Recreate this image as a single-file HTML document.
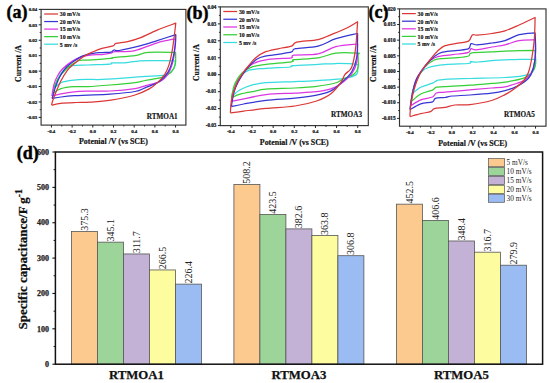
<!DOCTYPE html><html><head><meta charset="utf-8"><style>html,body{margin:0;padding:0;background:#fff;width:550px;height:383px;overflow:hidden}</style></head><body><svg width="550" height="383" viewBox="0 0 550 383" style="display:block;font-family:&quot;Liberation Serif&quot;, serif">
<rect width="550" height="383" fill="#fff"/>
<path d="M53.50,89.00 C53.88,88.05 54.77,85.55 55.80,83.30 C56.83,81.05 58.17,77.88 59.70,75.50 C61.23,73.12 62.82,70.63 65.00,69.00 C67.18,67.37 68.97,66.37 72.80,65.70 C76.63,65.03 81.83,65.25 88.00,65.00 C94.17,64.75 105.82,64.57 109.80,64.20 C113.78,63.83 109.53,63.02 111.90,62.80 C114.27,62.58 119.33,63.23 124.00,62.90 C128.67,62.57 134.37,61.18 139.90,60.80 C145.43,60.42 151.53,60.60 157.20,60.60 C162.87,60.60 170.88,60.57 173.90,60.80 C176.92,61.03 175.07,61.80 175.30,62.00 C175.12,63.00 175.42,65.95 174.20,68.00 C172.98,70.05 170.45,73.03 168.00,74.30 C165.55,75.57 163.33,75.25 159.50,75.60 C155.67,75.95 149.08,76.13 145.00,76.40 C140.92,76.67 142.08,76.70 135.00,77.20 C127.92,77.70 110.33,79.03 102.50,79.40 C94.67,79.77 92.73,79.28 88.00,79.40 C83.27,79.52 78.60,79.55 74.10,80.10 C69.60,80.65 64.43,81.22 61.00,82.70 C57.57,84.18 54.75,87.95 53.50,89.00" fill="none" stroke="#36dce0" stroke-width="1.25" stroke-linejoin="round"/>
<path d="M52.50,93.50 C52.83,92.33 53.52,89.07 54.50,86.50 C55.48,83.93 56.43,81.02 58.40,78.10 C60.37,75.18 63.68,71.50 66.30,69.00 C68.92,66.50 71.93,64.52 74.10,63.10 C76.27,61.68 76.98,61.00 79.30,60.50 C81.62,60.00 82.73,60.45 88.00,60.10 C93.27,59.75 106.73,58.82 110.90,58.40 C115.07,57.98 108.98,58.07 113.00,57.60 C117.02,57.13 129.12,56.47 135.00,55.60 C140.88,54.73 141.53,52.93 148.30,52.40 C155.07,51.87 171.05,52.40 175.60,52.40 C175.55,54.30 176.05,60.50 175.30,63.80 C174.55,67.10 173.37,69.93 171.10,72.20 C168.83,74.47 166.05,76.02 161.70,77.40 C157.35,78.78 149.45,79.63 145.00,80.50 C140.55,81.37 140.83,81.85 135.00,82.60 C129.17,83.35 117.83,84.33 110.00,85.00 C102.17,85.67 93.98,86.33 88.00,86.60 C82.02,86.87 78.60,86.27 74.10,86.60 C69.60,86.93 64.60,87.45 61.00,88.60 C57.40,89.75 53.92,92.68 52.50,93.50" fill="none" stroke="#36cf36" stroke-width="1.25" stroke-linejoin="round"/>
<path d="M51.90,96.00 C52.23,94.10 53.03,87.80 53.90,84.60 C54.77,81.40 55.68,79.40 57.10,76.80 C58.52,74.20 59.85,71.62 62.40,69.00 C64.95,66.38 68.98,63.20 72.40,61.10 C75.82,59.00 79.42,57.45 82.90,56.40 C86.38,55.35 90.12,55.10 93.30,54.80 C96.48,54.50 99.07,54.87 102.00,54.60 C104.93,54.33 108.73,53.68 110.90,53.20 C113.07,52.72 110.98,52.13 115.00,51.70 C119.02,51.27 127.97,52.08 135.00,50.60 C142.03,49.12 150.47,44.77 157.20,42.80 C163.93,40.83 172.37,39.47 175.40,38.80 C175.20,41.58 175.10,50.28 174.20,55.50 C173.30,60.72 172.08,65.93 170.00,70.10 C167.92,74.27 165.87,77.88 161.70,80.50 C157.53,83.12 149.45,84.45 145.00,85.80 C140.55,87.15 140.83,87.73 135.00,88.60 C129.17,89.47 117.83,90.57 110.00,91.00 C102.17,91.43 93.98,91.07 88.00,91.20 C82.02,91.33 78.60,91.37 74.10,91.80 C69.60,92.23 64.70,93.10 61.00,93.80 C57.30,94.50 53.42,95.63 51.90,96.00" fill="none" stroke="#dc36e2" stroke-width="1.25" stroke-linejoin="round"/>
<path d="M51.90,98.50 C52.12,97.93 52.55,97.18 53.20,95.10 C53.85,93.02 54.50,89.43 55.80,86.00 C57.10,82.57 59.13,77.75 61.00,74.50 C62.87,71.25 65.10,68.55 67.00,66.50 C68.90,64.45 69.75,63.97 72.40,62.20 C75.05,60.43 79.42,57.38 82.90,55.90 C86.38,54.42 90.12,53.85 93.30,53.30 C96.48,52.75 99.07,52.80 102.00,52.60 C104.93,52.40 108.90,52.53 110.90,52.10 C112.90,51.67 112.62,50.27 114.00,50.00 C115.38,49.73 114.88,51.18 119.20,50.50 C123.52,49.82 133.57,47.55 139.90,45.90 C146.23,44.25 151.22,42.48 157.20,40.60 C163.18,38.72 172.70,35.60 175.80,34.60 C175.72,36.33 175.92,40.47 175.30,45.00 C174.68,49.53 173.32,57.27 172.10,61.80 C170.88,66.33 170.08,68.90 168.00,72.20 C165.92,75.50 163.43,79.00 159.60,81.60 C155.77,84.20 149.10,86.15 145.00,87.80 C140.90,89.45 140.83,90.43 135.00,91.50 C129.17,92.57 117.83,93.60 110.00,94.20 C102.17,94.80 93.98,94.85 88.00,95.10 C82.02,95.35 78.60,95.38 74.10,95.70 C69.60,96.02 64.70,96.53 61.00,97.00 C57.30,97.47 53.42,98.25 51.90,98.50" fill="none" stroke="#3636d4" stroke-width="1.25" stroke-linejoin="round"/>
<path d="M51.60,105.20 C51.77,104.50 51.90,103.12 52.60,101.00 C53.30,98.88 54.40,95.88 55.80,92.50 C57.20,89.12 59.13,84.32 61.00,80.70 C62.87,77.08 65.10,73.37 67.00,70.80 C68.90,68.23 69.75,67.62 72.40,65.30 C75.05,62.98 79.42,59.17 82.90,56.90 C86.38,54.63 90.12,53.13 93.30,51.70 C96.48,50.27 98.72,49.27 102.00,48.30 C105.28,47.33 110.65,46.72 113.00,45.90 C115.35,45.08 113.67,44.10 116.10,43.40 C118.53,42.70 123.63,42.62 127.60,41.70 C131.57,40.78 134.97,39.83 139.90,37.90 C144.83,35.97 151.22,32.57 157.20,30.10 C163.18,27.63 172.70,24.27 175.80,23.10 C175.53,25.37 174.82,32.00 174.20,36.70 C173.58,41.40 172.97,46.60 172.10,51.30 C171.23,56.00 170.22,61.07 169.00,64.90 C167.78,68.73 166.72,71.35 164.80,74.30 C162.88,77.25 160.10,80.17 157.50,82.60 C154.90,85.03 152.95,86.83 149.20,88.90 C145.45,90.97 141.38,93.12 135.00,95.00 C128.62,96.88 118.40,99.00 110.90,100.20 C103.40,101.40 95.77,101.82 90.00,102.20 C84.23,102.58 81.18,102.32 76.30,102.50 C71.42,102.68 64.82,102.85 60.70,103.30 C56.58,103.75 53.12,104.88 51.60,105.20" fill="none" stroke="#dc3636" stroke-width="1.25" stroke-linejoin="round"/>
<rect x="41.1" y="9.4" width="144.80" height="115.70" fill="none" stroke="#333" stroke-width="1.15"/>
<line x1="38.70" y1="9.40" x2="41.1" y2="9.40" stroke="#222" stroke-width="1"/>
<text x="37.20" y="11.15" font-size="4.9" font-weight="bold" text-anchor="end" fill="#111" stroke="#111" stroke-width="0.22">0.04</text>
<line x1="38.70" y1="24.83" x2="41.1" y2="24.83" stroke="#222" stroke-width="1"/>
<text x="37.20" y="26.58" font-size="4.9" font-weight="bold" text-anchor="end" fill="#111" stroke="#111" stroke-width="0.22">0.03</text>
<line x1="38.70" y1="40.25" x2="41.1" y2="40.25" stroke="#222" stroke-width="1"/>
<text x="37.20" y="42.00" font-size="4.9" font-weight="bold" text-anchor="end" fill="#111" stroke="#111" stroke-width="0.22">0.02</text>
<line x1="38.70" y1="55.68" x2="41.1" y2="55.68" stroke="#222" stroke-width="1"/>
<text x="37.20" y="57.43" font-size="4.9" font-weight="bold" text-anchor="end" fill="#111" stroke="#111" stroke-width="0.22">0.01</text>
<line x1="38.70" y1="71.11" x2="41.1" y2="71.11" stroke="#222" stroke-width="1"/>
<text x="37.20" y="72.86" font-size="4.9" font-weight="bold" text-anchor="end" fill="#111" stroke="#111" stroke-width="0.22">0.00</text>
<line x1="38.70" y1="86.53" x2="41.1" y2="86.53" stroke="#222" stroke-width="1"/>
<text x="37.20" y="88.28" font-size="4.9" font-weight="bold" text-anchor="end" fill="#111" stroke="#111" stroke-width="0.22">-0.01</text>
<line x1="38.70" y1="101.96" x2="41.1" y2="101.96" stroke="#222" stroke-width="1"/>
<text x="37.20" y="103.71" font-size="4.9" font-weight="bold" text-anchor="end" fill="#111" stroke="#111" stroke-width="0.22">-0.02</text>
<line x1="38.70" y1="117.39" x2="41.1" y2="117.39" stroke="#222" stroke-width="1"/>
<text x="37.20" y="119.14" font-size="4.9" font-weight="bold" text-anchor="end" fill="#111" stroke="#111" stroke-width="0.22">-0.03</text>
<line x1="39.70" y1="17.11" x2="41.1" y2="17.11" stroke="#222" stroke-width="0.9"/>
<line x1="39.70" y1="32.54" x2="41.1" y2="32.54" stroke="#222" stroke-width="0.9"/>
<line x1="39.70" y1="47.97" x2="41.1" y2="47.97" stroke="#222" stroke-width="0.9"/>
<line x1="39.70" y1="63.39" x2="41.1" y2="63.39" stroke="#222" stroke-width="0.9"/>
<line x1="39.70" y1="78.82" x2="41.1" y2="78.82" stroke="#222" stroke-width="0.9"/>
<line x1="39.70" y1="94.25" x2="41.1" y2="94.25" stroke="#222" stroke-width="0.9"/>
<line x1="39.70" y1="109.67" x2="41.1" y2="109.67" stroke="#222" stroke-width="0.9"/>
<line x1="51.44" y1="125.1" x2="51.44" y2="127.50" stroke="#222" stroke-width="1"/>
<text x="51.44" y="132.60" font-size="4.9" font-weight="bold" text-anchor="middle" fill="#111" stroke="#111" stroke-width="0.22">-0.4</text>
<line x1="72.13" y1="125.1" x2="72.13" y2="127.50" stroke="#222" stroke-width="1"/>
<text x="72.13" y="132.60" font-size="4.9" font-weight="bold" text-anchor="middle" fill="#111" stroke="#111" stroke-width="0.22">-0.2</text>
<line x1="92.81" y1="125.1" x2="92.81" y2="127.50" stroke="#222" stroke-width="1"/>
<text x="92.81" y="132.60" font-size="4.9" font-weight="bold" text-anchor="middle" fill="#111" stroke="#111" stroke-width="0.22">0.0</text>
<line x1="113.50" y1="125.1" x2="113.50" y2="127.50" stroke="#222" stroke-width="1"/>
<text x="113.50" y="132.60" font-size="4.9" font-weight="bold" text-anchor="middle" fill="#111" stroke="#111" stroke-width="0.22">0.2</text>
<line x1="134.19" y1="125.1" x2="134.19" y2="127.50" stroke="#222" stroke-width="1"/>
<text x="134.19" y="132.60" font-size="4.9" font-weight="bold" text-anchor="middle" fill="#111" stroke="#111" stroke-width="0.22">0.4</text>
<line x1="154.87" y1="125.1" x2="154.87" y2="127.50" stroke="#222" stroke-width="1"/>
<text x="154.87" y="132.60" font-size="4.9" font-weight="bold" text-anchor="middle" fill="#111" stroke="#111" stroke-width="0.22">0.6</text>
<line x1="175.56" y1="125.1" x2="175.56" y2="127.50" stroke="#222" stroke-width="1"/>
<text x="175.56" y="132.60" font-size="4.9" font-weight="bold" text-anchor="middle" fill="#111" stroke="#111" stroke-width="0.22">0.8</text>
<line x1="61.79" y1="125.1" x2="61.79" y2="126.50" stroke="#222" stroke-width="0.9"/>
<line x1="82.47" y1="125.1" x2="82.47" y2="126.50" stroke="#222" stroke-width="0.9"/>
<line x1="103.16" y1="125.1" x2="103.16" y2="126.50" stroke="#222" stroke-width="0.9"/>
<line x1="123.84" y1="125.1" x2="123.84" y2="126.50" stroke="#222" stroke-width="0.9"/>
<line x1="144.53" y1="125.1" x2="144.53" y2="126.50" stroke="#222" stroke-width="0.9"/>
<line x1="165.21" y1="125.1" x2="165.21" y2="126.50" stroke="#222" stroke-width="0.9"/>
<text x="113.50" y="144.40" font-size="7.9" font-weight="bold" text-anchor="middle" fill="#111" stroke="#111" stroke-width="0.18">Potenial /V (vs SCE)</text>
<text x="0" y="0" font-size="7.8" font-weight="bold" text-anchor="middle" fill="#111" stroke="#111" stroke-width="0.18" transform="translate(20.5,63.5) rotate(-90)">Current /A</text>
<text x="6.6" y="18.0" font-size="18" font-weight="bold" text-anchor="start" fill="#000" stroke="#000" stroke-width="0.45">(a)</text>
<text x="146.8" y="119" font-size="7.2" font-weight="bold" text-anchor="start" fill="#111" stroke="#111" stroke-width="0.15">RTMOA1</text>
<line x1="44.2" y1="14.00" x2="58.00" y2="14.00" stroke="#dc3636" stroke-width="1.25"/>
<text x="59.80" y="16.30" font-size="6.5" font-weight="bold" text-anchor="start" fill="#111" textLength="20.3" lengthAdjust="spacingAndGlyphs" stroke="#111" stroke-width="0.18">30 mV/s</text>
<line x1="44.2" y1="21.55" x2="58.00" y2="21.55" stroke="#3636d4" stroke-width="1.25"/>
<text x="59.80" y="23.85" font-size="6.5" font-weight="bold" text-anchor="start" fill="#111" textLength="20.3" lengthAdjust="spacingAndGlyphs" stroke="#111" stroke-width="0.18">20 mV/s</text>
<line x1="44.2" y1="29.10" x2="58.00" y2="29.10" stroke="#dc36e2" stroke-width="1.25"/>
<text x="59.80" y="31.40" font-size="6.5" font-weight="bold" text-anchor="start" fill="#111" textLength="20.3" lengthAdjust="spacingAndGlyphs" stroke="#111" stroke-width="0.18">15 mV/s</text>
<line x1="44.2" y1="36.65" x2="58.00" y2="36.65" stroke="#36cf36" stroke-width="1.25"/>
<text x="59.80" y="38.95" font-size="6.5" font-weight="bold" text-anchor="start" fill="#111" textLength="20.3" lengthAdjust="spacingAndGlyphs" stroke="#111" stroke-width="0.18">10 mV/s</text>
<line x1="44.2" y1="44.20" x2="58.00" y2="44.20" stroke="#36dce0" stroke-width="1.25"/>
<text x="59.80" y="46.50" font-size="6.5" font-weight="bold" text-anchor="start" fill="#111" textLength="17.4" lengthAdjust="spacingAndGlyphs" stroke="#111" stroke-width="0.18">5 mv /s</text>
<path d="M232.20,96.00 C232.65,94.22 233.57,88.57 234.90,85.30 C236.23,82.03 237.83,78.92 240.20,76.40 C242.57,73.88 244.80,71.53 249.10,70.20 C253.40,68.87 259.15,68.93 266.00,68.40 C272.85,67.87 285.73,67.45 290.20,67.00 C294.67,66.55 288.15,66.13 292.80,65.70 C297.45,65.27 310.92,64.77 318.10,64.40 C325.28,64.03 329.45,63.52 335.90,63.50 C342.35,63.48 353.12,63.88 356.80,64.30 C360.48,64.72 357.80,65.72 358.00,66.00 C357.80,67.33 358.32,72.08 356.80,74.00 C355.28,75.92 352.02,76.65 348.90,77.50 C345.78,78.35 343.48,78.58 338.10,79.10 C332.72,79.62 323.78,80.18 316.60,80.60 C309.42,81.02 303.43,81.25 295.00,81.60 C286.57,81.95 273.35,82.08 266.00,82.70 C258.65,83.32 255.20,84.12 250.90,85.30 C246.60,86.48 243.32,88.02 240.20,89.80 C237.08,91.58 233.53,94.97 232.20,96.00" fill="none" stroke="#36dce0" stroke-width="1.25" stroke-linejoin="round"/>
<path d="M231.30,97.80 C231.90,95.43 233.12,87.75 234.90,83.60 C236.68,79.45 239.03,75.72 242.00,72.90 C244.97,70.08 248.70,68.12 252.70,66.70 C256.70,65.28 259.53,65.22 266.00,64.40 C272.47,63.58 286.82,62.58 291.50,61.80 C296.18,61.02 289.67,60.35 294.10,59.70 C298.53,59.05 311.13,59.00 318.10,57.90 C325.07,56.80 329.32,53.90 335.90,53.10 C342.48,52.30 353.92,52.95 357.60,53.10 C361.28,53.25 357.93,53.85 358.00,54.00 C358.02,56.23 358.73,64.07 358.10,67.40 C357.47,70.73 356.82,72.00 354.20,74.00 C351.58,76.00 345.57,77.90 342.40,79.40 C339.23,80.90 339.50,81.85 335.20,83.00 C330.90,84.15 323.30,85.47 316.60,86.30 C309.90,87.13 303.43,87.52 295.00,88.00 C286.57,88.48 273.05,88.60 266.00,89.20 C258.95,89.80 257.00,90.77 252.70,91.60 C248.40,92.43 243.77,93.17 240.20,94.20 C236.63,95.23 232.78,97.20 231.30,97.80" fill="none" stroke="#36cf36" stroke-width="1.25" stroke-linejoin="round"/>
<path d="M231.30,101.30 C231.75,99.53 232.52,94.55 234.00,90.70 C235.48,86.85 238.20,81.82 240.20,78.20 C242.20,74.58 244.10,71.28 246.00,69.00 C247.90,66.72 249.45,65.78 251.60,64.50 C253.75,63.22 256.47,62.08 258.90,61.30 C261.33,60.52 263.02,60.23 266.20,59.80 C269.38,59.37 273.78,59.02 278.00,58.70 C282.22,58.38 288.82,58.48 291.50,57.90 C294.18,57.32 289.67,55.87 294.10,55.20 C298.53,54.53 311.13,55.33 318.10,53.90 C325.07,52.47 329.32,48.25 335.90,46.60 C342.48,44.95 353.98,44.43 357.60,44.00 C357.47,47.03 357.80,57.20 356.80,62.20 C355.80,67.20 354.23,70.42 351.60,74.00 C348.97,77.58 344.45,81.23 341.00,83.70 C337.55,86.17 334.97,87.48 330.90,88.80 C326.83,90.12 322.58,90.88 316.60,91.60 C310.62,92.32 303.43,92.60 295.00,93.10 C286.57,93.60 275.13,93.52 266.00,94.60 C256.87,95.68 245.98,98.48 240.20,99.60 C234.42,100.72 232.78,101.02 231.30,101.30" fill="none" stroke="#dc36e2" stroke-width="1.25" stroke-linejoin="round"/>
<path d="M231.30,106.70 C231.75,104.32 232.88,96.52 234.00,92.40 C235.12,88.28 236.50,85.07 238.00,82.00 C239.50,78.93 241.27,76.50 243.00,74.00 C244.73,71.50 246.10,69.47 248.40,67.00 C250.70,64.53 254.00,61.02 256.80,59.20 C259.60,57.38 261.67,56.92 265.20,56.10 C268.73,55.28 273.62,55.00 278.00,54.30 C282.38,53.60 288.60,52.83 291.50,51.90 C294.40,50.97 290.97,49.67 295.40,48.70 C299.83,47.73 311.35,47.77 318.10,46.10 C324.85,44.43 329.32,40.80 335.90,38.70 C342.48,36.60 353.98,34.37 357.60,33.50 C357.47,37.42 357.80,50.58 356.80,57.00 C355.80,63.42 354.23,67.67 351.60,72.00 C348.97,76.33 344.45,79.85 341.00,83.00 C337.55,86.15 334.97,88.87 330.90,90.90 C326.83,92.93 322.58,94.00 316.60,95.20 C310.62,96.40 303.43,97.23 295.00,98.10 C286.57,98.97 274.53,99.42 266.00,100.40 C257.47,101.38 249.58,102.95 243.80,104.00 C238.02,105.05 233.38,106.25 231.30,106.70" fill="none" stroke="#3636d4" stroke-width="1.25" stroke-linejoin="round"/>
<path d="M230.40,112.90 C230.55,110.97 230.55,105.45 231.30,101.30 C232.05,97.15 233.78,91.45 234.90,88.00 C236.02,84.55 236.65,83.10 238.00,80.60 C239.35,78.10 241.27,75.43 243.00,73.00 C244.73,70.57 246.27,68.55 248.40,66.00 C250.53,63.45 253.18,59.97 255.80,57.70 C258.42,55.43 260.40,53.88 264.10,52.40 C267.80,50.92 273.43,49.85 278.00,48.80 C282.57,47.75 288.38,47.20 291.50,46.10 C294.62,45.00 292.27,43.28 296.70,42.20 C301.13,41.12 312.43,40.83 318.10,39.60 C323.77,38.37 326.00,36.68 330.70,34.80 C335.40,32.92 341.82,30.48 346.30,28.30 C350.78,26.12 355.72,22.80 357.60,21.70 C357.25,26.28 356.50,41.58 355.50,49.20 C354.50,56.82 353.35,63.20 351.60,67.40 C349.85,71.60 346.77,71.92 345.00,74.40 C343.23,76.88 343.35,79.07 341.00,82.30 C338.65,85.53 334.97,90.68 330.90,93.80 C326.83,96.92 322.58,98.97 316.60,101.00 C310.62,103.03 303.43,104.77 295.00,106.00 C286.57,107.23 274.53,107.55 266.00,108.40 C257.47,109.25 249.73,110.35 243.80,111.10 C237.87,111.85 232.63,112.60 230.40,112.90" fill="none" stroke="#dc3636" stroke-width="1.25" stroke-linejoin="round"/>
<rect x="220.3" y="6.9" width="148.00" height="118.70" fill="none" stroke="#333" stroke-width="1.15"/>
<line x1="217.90" y1="6.90" x2="220.3" y2="6.90" stroke="#222" stroke-width="1"/>
<text x="216.40" y="8.65" font-size="5.1" font-weight="bold" text-anchor="end" fill="#111" stroke="#111" stroke-width="0.22">0.04</text>
<line x1="217.90" y1="23.86" x2="220.3" y2="23.86" stroke="#222" stroke-width="1"/>
<text x="216.40" y="25.61" font-size="5.1" font-weight="bold" text-anchor="end" fill="#111" stroke="#111" stroke-width="0.22">0.03</text>
<line x1="217.90" y1="40.81" x2="220.3" y2="40.81" stroke="#222" stroke-width="1"/>
<text x="216.40" y="42.56" font-size="5.1" font-weight="bold" text-anchor="end" fill="#111" stroke="#111" stroke-width="0.22">0.02</text>
<line x1="217.90" y1="57.77" x2="220.3" y2="57.77" stroke="#222" stroke-width="1"/>
<text x="216.40" y="59.52" font-size="5.1" font-weight="bold" text-anchor="end" fill="#111" stroke="#111" stroke-width="0.22">0.01</text>
<line x1="217.90" y1="74.73" x2="220.3" y2="74.73" stroke="#222" stroke-width="1"/>
<text x="216.40" y="76.48" font-size="5.1" font-weight="bold" text-anchor="end" fill="#111" stroke="#111" stroke-width="0.22">0.00</text>
<line x1="217.90" y1="91.69" x2="220.3" y2="91.69" stroke="#222" stroke-width="1"/>
<text x="216.40" y="93.44" font-size="5.1" font-weight="bold" text-anchor="end" fill="#111" stroke="#111" stroke-width="0.22">-0.01</text>
<line x1="217.90" y1="108.64" x2="220.3" y2="108.64" stroke="#222" stroke-width="1"/>
<text x="216.40" y="110.39" font-size="5.1" font-weight="bold" text-anchor="end" fill="#111" stroke="#111" stroke-width="0.22">-0.02</text>
<line x1="217.90" y1="125.60" x2="220.3" y2="125.60" stroke="#222" stroke-width="1"/>
<text x="216.40" y="127.35" font-size="5.1" font-weight="bold" text-anchor="end" fill="#111" stroke="#111" stroke-width="0.22">-0.03</text>
<line x1="218.90" y1="15.38" x2="220.3" y2="15.38" stroke="#222" stroke-width="0.9"/>
<line x1="218.90" y1="32.34" x2="220.3" y2="32.34" stroke="#222" stroke-width="0.9"/>
<line x1="218.90" y1="49.29" x2="220.3" y2="49.29" stroke="#222" stroke-width="0.9"/>
<line x1="218.90" y1="66.25" x2="220.3" y2="66.25" stroke="#222" stroke-width="0.9"/>
<line x1="218.90" y1="83.21" x2="220.3" y2="83.21" stroke="#222" stroke-width="0.9"/>
<line x1="218.90" y1="100.16" x2="220.3" y2="100.16" stroke="#222" stroke-width="0.9"/>
<line x1="218.90" y1="117.12" x2="220.3" y2="117.12" stroke="#222" stroke-width="0.9"/>
<line x1="230.87" y1="125.6" x2="230.87" y2="128.00" stroke="#222" stroke-width="1"/>
<text x="230.87" y="133.10" font-size="4.9" font-weight="bold" text-anchor="middle" fill="#111" stroke="#111" stroke-width="0.22">-0.4</text>
<line x1="252.01" y1="125.6" x2="252.01" y2="128.00" stroke="#222" stroke-width="1"/>
<text x="252.01" y="133.10" font-size="4.9" font-weight="bold" text-anchor="middle" fill="#111" stroke="#111" stroke-width="0.22">-0.2</text>
<line x1="273.16" y1="125.6" x2="273.16" y2="128.00" stroke="#222" stroke-width="1"/>
<text x="273.16" y="133.10" font-size="4.9" font-weight="bold" text-anchor="middle" fill="#111" stroke="#111" stroke-width="0.22">0.0</text>
<line x1="294.30" y1="125.6" x2="294.30" y2="128.00" stroke="#222" stroke-width="1"/>
<text x="294.30" y="133.10" font-size="4.9" font-weight="bold" text-anchor="middle" fill="#111" stroke="#111" stroke-width="0.22">0.2</text>
<line x1="315.44" y1="125.6" x2="315.44" y2="128.00" stroke="#222" stroke-width="1"/>
<text x="315.44" y="133.10" font-size="4.9" font-weight="bold" text-anchor="middle" fill="#111" stroke="#111" stroke-width="0.22">0.4</text>
<line x1="336.59" y1="125.6" x2="336.59" y2="128.00" stroke="#222" stroke-width="1"/>
<text x="336.59" y="133.10" font-size="4.9" font-weight="bold" text-anchor="middle" fill="#111" stroke="#111" stroke-width="0.22">0.6</text>
<line x1="357.73" y1="125.6" x2="357.73" y2="128.00" stroke="#222" stroke-width="1"/>
<text x="357.73" y="133.10" font-size="4.9" font-weight="bold" text-anchor="middle" fill="#111" stroke="#111" stroke-width="0.22">0.8</text>
<line x1="241.44" y1="125.6" x2="241.44" y2="127.00" stroke="#222" stroke-width="0.9"/>
<line x1="262.59" y1="125.6" x2="262.59" y2="127.00" stroke="#222" stroke-width="0.9"/>
<line x1="283.73" y1="125.6" x2="283.73" y2="127.00" stroke="#222" stroke-width="0.9"/>
<line x1="304.87" y1="125.6" x2="304.87" y2="127.00" stroke="#222" stroke-width="0.9"/>
<line x1="326.01" y1="125.6" x2="326.01" y2="127.00" stroke="#222" stroke-width="0.9"/>
<line x1="347.16" y1="125.6" x2="347.16" y2="127.00" stroke="#222" stroke-width="0.9"/>
<text x="294.30" y="144.90" font-size="7.9" font-weight="bold" text-anchor="middle" fill="#111" stroke="#111" stroke-width="0.18">Potenial /V (vs SCE)</text>
<text x="0" y="0" font-size="7.8" font-weight="bold" text-anchor="middle" fill="#111" stroke="#111" stroke-width="0.18" transform="translate(199,62.6) rotate(-90)">Current /A</text>
<text x="186.5" y="18.9" font-size="18" font-weight="bold" text-anchor="start" fill="#000" stroke="#000" stroke-width="0.45">(b)</text>
<text x="331.1" y="116.8" font-size="7.2" font-weight="bold" text-anchor="start" fill="#111" stroke="#111" stroke-width="0.15">RTMOA3</text>
<line x1="223.3" y1="11.50" x2="237.10" y2="11.50" stroke="#dc3636" stroke-width="1.25"/>
<text x="238.90" y="13.80" font-size="6.5" font-weight="bold" text-anchor="start" fill="#111" textLength="20.3" lengthAdjust="spacingAndGlyphs" stroke="#111" stroke-width="0.18">30 mV/s</text>
<line x1="223.3" y1="19.25" x2="237.10" y2="19.25" stroke="#3636d4" stroke-width="1.25"/>
<text x="238.90" y="21.55" font-size="6.5" font-weight="bold" text-anchor="start" fill="#111" textLength="20.3" lengthAdjust="spacingAndGlyphs" stroke="#111" stroke-width="0.18">20 mV/s</text>
<line x1="223.3" y1="27.00" x2="237.10" y2="27.00" stroke="#dc36e2" stroke-width="1.25"/>
<text x="238.90" y="29.30" font-size="6.5" font-weight="bold" text-anchor="start" fill="#111" textLength="20.3" lengthAdjust="spacingAndGlyphs" stroke="#111" stroke-width="0.18">15 mV/s</text>
<line x1="223.3" y1="34.75" x2="237.10" y2="34.75" stroke="#36cf36" stroke-width="1.25"/>
<text x="238.90" y="37.05" font-size="6.5" font-weight="bold" text-anchor="start" fill="#111" textLength="20.3" lengthAdjust="spacingAndGlyphs" stroke="#111" stroke-width="0.18">10 mV/s</text>
<line x1="223.3" y1="42.50" x2="237.10" y2="42.50" stroke="#36dce0" stroke-width="1.25"/>
<text x="238.90" y="44.80" font-size="6.5" font-weight="bold" text-anchor="start" fill="#111" textLength="17.4" lengthAdjust="spacingAndGlyphs" stroke="#111" stroke-width="0.18">5 mv /s</text>
<path d="M411.90,94.00 C412.55,91.72 414.33,83.88 415.80,80.30 C417.27,76.72 418.58,74.63 420.70,72.50 C422.82,70.37 424.45,68.82 428.50,67.50 C432.55,66.18 438.32,65.27 445.00,64.60 C451.68,63.93 464.33,63.98 468.60,63.50 C472.87,63.02 469.17,61.95 470.60,61.70 C472.03,61.45 473.70,62.17 477.20,62.00 C480.70,61.83 486.97,61.07 491.60,60.70 C496.23,60.33 500.27,60.03 505.00,59.80 C509.73,59.57 514.98,59.37 520.00,59.30 C525.02,59.23 532.58,59.38 535.10,59.40 C535.10,60.57 535.80,64.05 535.10,66.40 C534.40,68.75 533.57,71.85 530.90,73.50 C528.23,75.15 523.42,75.63 519.10,76.30 C514.78,76.97 513.18,77.13 505.00,77.50 C496.82,77.87 480.00,78.20 470.00,78.50 C460.00,78.80 450.43,79.00 445.00,79.30 C439.57,79.60 439.48,79.65 437.40,80.30 C435.32,80.95 435.28,82.05 432.50,83.20 C429.72,84.35 424.13,85.40 420.70,87.20 C417.27,89.00 413.37,92.87 411.90,94.00" fill="none" stroke="#36dce0" stroke-width="1.25" stroke-linejoin="round"/>
<path d="M410.90,101.90 C411.38,99.60 412.50,92.35 413.80,88.10 C415.10,83.85 416.95,79.83 418.70,76.40 C420.45,72.97 421.80,70.18 424.30,67.50 C426.80,64.82 430.92,61.77 433.70,60.30 C436.48,58.83 436.95,59.13 441.00,58.70 C445.05,58.27 453.40,58.15 458.00,57.70 C462.60,57.25 466.30,56.82 468.60,56.00 C470.90,55.18 467.90,53.50 471.80,52.80 C475.70,52.10 486.47,52.08 492.00,51.80 C497.53,51.52 497.82,51.33 505.00,51.10 C512.18,50.87 530.08,50.52 535.10,50.40 C535.18,52.68 536.12,60.45 535.60,64.10 C535.08,67.75 533.97,69.95 532.00,72.30 C530.03,74.65 528.30,76.55 523.80,78.20 C519.30,79.85 510.37,81.33 505.00,82.20 C499.63,83.07 497.43,82.90 491.60,83.40 C485.77,83.90 477.77,84.67 470.00,85.20 C462.23,85.73 450.60,86.27 445.00,86.60 C439.40,86.93 438.48,86.62 436.40,87.20 C434.32,87.78 435.12,88.97 432.50,90.10 C429.88,91.23 424.30,92.03 420.70,94.00 C417.10,95.97 412.53,100.58 410.90,101.90" fill="none" stroke="#36cf36" stroke-width="1.25" stroke-linejoin="round"/>
<path d="M410.90,105.80 C411.22,103.52 411.82,96.68 412.80,92.10 C413.78,87.52 414.83,82.55 416.80,78.30 C418.77,74.05 422.13,69.73 424.60,66.60 C427.07,63.47 429.22,61.22 431.60,59.50 C433.98,57.78 434.50,57.22 438.90,56.30 C443.30,55.38 453.05,54.67 458.00,54.00 C462.95,53.33 466.42,53.20 468.60,52.30 C470.78,51.40 469.87,49.02 471.10,48.60 C472.33,48.18 472.52,50.07 476.00,49.80 C479.48,49.53 487.17,47.83 492.00,47.00 C496.83,46.17 500.48,45.87 505.00,44.80 C509.52,43.73 514.08,41.43 519.10,40.60 C524.12,39.77 532.43,39.93 535.10,39.80 C535.10,43.07 535.80,53.78 535.10,59.40 C534.40,65.02 532.78,69.98 530.90,73.50 C529.02,77.02 526.77,78.67 523.80,80.50 C520.83,82.33 516.23,83.45 513.10,84.50 C509.97,85.55 508.58,86.22 505.00,86.80 C501.42,87.38 497.43,87.50 491.60,88.00 C485.77,88.50 477.77,89.10 470.00,89.80 C462.23,90.50 450.60,91.67 445.00,92.20 C439.40,92.73 438.48,92.20 436.40,93.00 C434.32,93.80 435.12,95.85 432.50,97.00 C429.88,98.15 424.30,98.43 420.70,99.90 C417.10,101.37 412.53,104.82 410.90,105.80" fill="none" stroke="#dc36e2" stroke-width="1.25" stroke-linejoin="round"/>
<path d="M409.90,109.70 C410.23,107.42 410.92,100.78 411.90,96.00 C412.88,91.22 414.02,85.42 415.80,81.00 C417.58,76.58 420.15,73.00 422.60,69.50 C425.05,66.00 427.78,62.67 430.50,60.00 C433.22,57.33 436.12,54.93 438.90,53.50 C441.68,52.07 444.02,51.92 447.20,51.40 C450.38,50.88 454.43,50.87 458.00,50.40 C461.57,49.93 466.42,49.73 468.60,48.60 C470.78,47.47 469.65,44.22 471.10,43.60 C472.55,42.98 473.82,45.00 477.30,44.90 C480.78,44.80 487.38,43.72 492.00,43.00 C496.62,42.28 500.48,41.98 505.00,40.60 C509.52,39.22 514.08,36.00 519.10,34.70 C524.12,33.40 532.43,33.12 535.10,32.80 C535.18,36.05 535.92,46.30 535.60,52.30 C535.28,58.30 534.38,64.48 533.20,68.80 C532.02,73.12 531.23,75.27 528.50,78.20 C525.77,81.13 520.72,84.33 516.80,86.40 C512.88,88.47 509.20,89.48 505.00,90.60 C500.80,91.72 497.43,92.37 491.60,93.10 C485.77,93.83 476.53,94.52 470.00,95.00 C463.47,95.48 456.57,95.58 452.40,96.00 C448.23,96.42 447.83,97.12 445.00,97.50 C442.17,97.88 437.48,97.57 435.40,98.30 C433.32,99.03 434.95,100.98 432.50,101.90 C430.05,102.82 424.47,102.50 420.70,103.80 C416.93,105.10 411.70,108.72 409.90,109.70" fill="none" stroke="#3636d4" stroke-width="1.25" stroke-linejoin="round"/>
<path d="M409.90,116.60 C410.07,114.47 410.25,108.15 410.90,103.80 C411.55,99.45 412.62,94.80 413.80,90.50 C414.98,86.20 416.60,81.42 418.00,78.00 C419.40,74.58 420.12,73.13 422.20,70.00 C424.28,66.87 427.72,62.57 430.50,59.20 C433.28,55.83 436.45,52.05 438.90,49.80 C441.35,47.55 442.02,46.82 445.20,45.70 C448.38,44.58 454.10,43.87 458.00,43.10 C461.90,42.33 466.22,42.47 468.60,41.10 C470.98,39.73 470.90,35.88 472.30,34.90 C473.70,33.92 473.72,35.43 477.00,35.20 C480.28,34.97 487.33,34.23 492.00,33.50 C496.67,32.77 500.48,32.22 505.00,30.80 C509.52,29.38 514.08,27.22 519.10,25.00 C524.12,22.78 532.43,18.75 535.10,17.50 C534.98,20.95 534.92,31.62 534.40,38.20 C533.88,44.78 532.98,51.32 532.00,57.00 C531.02,62.68 529.87,68.38 528.50,72.30 C527.13,76.22 526.15,77.77 523.80,80.50 C521.45,83.23 517.53,86.35 514.40,88.70 C511.27,91.05 508.80,92.63 505.00,94.60 C501.20,96.57 497.43,98.83 491.60,100.50 C485.77,102.17 476.12,103.85 470.00,104.60 C463.88,105.35 459.07,104.53 454.90,105.00 C450.73,105.47 448.42,106.78 445.00,107.40 C441.58,108.02 436.82,107.98 434.40,108.70 C431.98,109.42 432.78,110.88 430.50,111.70 C428.22,112.52 424.13,112.78 420.70,113.60 C417.27,114.42 411.70,116.10 409.90,116.60" fill="none" stroke="#dc3636" stroke-width="1.25" stroke-linejoin="round"/>
<rect x="399.5" y="8.9" width="146.50" height="117.30" fill="none" stroke="#333" stroke-width="1.15"/>
<line x1="397.10" y1="8.90" x2="399.5" y2="8.90" stroke="#222" stroke-width="1"/>
<text x="395.60" y="10.65" font-size="5.3" font-weight="bold" text-anchor="end" fill="#111" stroke="#111" stroke-width="0.22">0.020</text>
<line x1="397.10" y1="24.54" x2="399.5" y2="24.54" stroke="#222" stroke-width="1"/>
<text x="395.60" y="26.29" font-size="5.3" font-weight="bold" text-anchor="end" fill="#111" stroke="#111" stroke-width="0.22">0.015</text>
<line x1="397.10" y1="40.18" x2="399.5" y2="40.18" stroke="#222" stroke-width="1"/>
<text x="395.60" y="41.93" font-size="5.3" font-weight="bold" text-anchor="end" fill="#111" stroke="#111" stroke-width="0.22">0.010</text>
<line x1="397.10" y1="55.82" x2="399.5" y2="55.82" stroke="#222" stroke-width="1"/>
<text x="395.60" y="57.57" font-size="5.3" font-weight="bold" text-anchor="end" fill="#111" stroke="#111" stroke-width="0.22">0.005</text>
<line x1="397.10" y1="71.46" x2="399.5" y2="71.46" stroke="#222" stroke-width="1"/>
<text x="395.60" y="73.21" font-size="5.3" font-weight="bold" text-anchor="end" fill="#111" stroke="#111" stroke-width="0.22">0.000</text>
<line x1="397.10" y1="87.10" x2="399.5" y2="87.10" stroke="#222" stroke-width="1"/>
<text x="395.60" y="88.85" font-size="5.3" font-weight="bold" text-anchor="end" fill="#111" stroke="#111" stroke-width="0.22">-0.005</text>
<line x1="397.10" y1="102.74" x2="399.5" y2="102.74" stroke="#222" stroke-width="1"/>
<text x="395.60" y="104.49" font-size="5.3" font-weight="bold" text-anchor="end" fill="#111" stroke="#111" stroke-width="0.22">-0.010</text>
<line x1="397.10" y1="118.38" x2="399.5" y2="118.38" stroke="#222" stroke-width="1"/>
<text x="395.60" y="120.13" font-size="5.3" font-weight="bold" text-anchor="end" fill="#111" stroke="#111" stroke-width="0.22">-0.015</text>
<line x1="398.10" y1="16.72" x2="399.5" y2="16.72" stroke="#222" stroke-width="0.9"/>
<line x1="398.10" y1="32.36" x2="399.5" y2="32.36" stroke="#222" stroke-width="0.9"/>
<line x1="398.10" y1="48.00" x2="399.5" y2="48.00" stroke="#222" stroke-width="0.9"/>
<line x1="398.10" y1="63.64" x2="399.5" y2="63.64" stroke="#222" stroke-width="0.9"/>
<line x1="398.10" y1="79.28" x2="399.5" y2="79.28" stroke="#222" stroke-width="0.9"/>
<line x1="398.10" y1="94.92" x2="399.5" y2="94.92" stroke="#222" stroke-width="0.9"/>
<line x1="398.10" y1="110.56" x2="399.5" y2="110.56" stroke="#222" stroke-width="0.9"/>
<line x1="409.96" y1="126.2" x2="409.96" y2="128.60" stroke="#222" stroke-width="1"/>
<text x="409.96" y="133.70" font-size="4.9" font-weight="bold" text-anchor="middle" fill="#111" stroke="#111" stroke-width="0.22">-0.4</text>
<line x1="430.89" y1="126.2" x2="430.89" y2="128.60" stroke="#222" stroke-width="1"/>
<text x="430.89" y="133.70" font-size="4.9" font-weight="bold" text-anchor="middle" fill="#111" stroke="#111" stroke-width="0.22">-0.2</text>
<line x1="451.82" y1="126.2" x2="451.82" y2="128.60" stroke="#222" stroke-width="1"/>
<text x="451.82" y="133.70" font-size="4.9" font-weight="bold" text-anchor="middle" fill="#111" stroke="#111" stroke-width="0.22">0.0</text>
<line x1="472.75" y1="126.2" x2="472.75" y2="128.60" stroke="#222" stroke-width="1"/>
<text x="472.75" y="133.70" font-size="4.9" font-weight="bold" text-anchor="middle" fill="#111" stroke="#111" stroke-width="0.22">0.2</text>
<line x1="493.68" y1="126.2" x2="493.68" y2="128.60" stroke="#222" stroke-width="1"/>
<text x="493.68" y="133.70" font-size="4.9" font-weight="bold" text-anchor="middle" fill="#111" stroke="#111" stroke-width="0.22">0.4</text>
<line x1="514.61" y1="126.2" x2="514.61" y2="128.60" stroke="#222" stroke-width="1"/>
<text x="514.61" y="133.70" font-size="4.9" font-weight="bold" text-anchor="middle" fill="#111" stroke="#111" stroke-width="0.22">0.6</text>
<line x1="535.54" y1="126.2" x2="535.54" y2="128.60" stroke="#222" stroke-width="1"/>
<text x="535.54" y="133.70" font-size="4.9" font-weight="bold" text-anchor="middle" fill="#111" stroke="#111" stroke-width="0.22">0.8</text>
<line x1="420.43" y1="126.2" x2="420.43" y2="127.60" stroke="#222" stroke-width="0.9"/>
<line x1="441.36" y1="126.2" x2="441.36" y2="127.60" stroke="#222" stroke-width="0.9"/>
<line x1="462.29" y1="126.2" x2="462.29" y2="127.60" stroke="#222" stroke-width="0.9"/>
<line x1="483.21" y1="126.2" x2="483.21" y2="127.60" stroke="#222" stroke-width="0.9"/>
<line x1="504.14" y1="126.2" x2="504.14" y2="127.60" stroke="#222" stroke-width="0.9"/>
<line x1="525.07" y1="126.2" x2="525.07" y2="127.60" stroke="#222" stroke-width="0.9"/>
<text x="472.75" y="145.50" font-size="7.9" font-weight="bold" text-anchor="middle" fill="#111" stroke="#111" stroke-width="0.18">Potenial /V (vs SCE)</text>
<text x="0" y="0" font-size="7.8" font-weight="bold" text-anchor="middle" fill="#111" stroke="#111" stroke-width="0.18" transform="translate(376,63.5) rotate(-90)">Current /A</text>
<text x="368.5" y="18.3" font-size="18" font-weight="bold" text-anchor="start" fill="#000" stroke="#000" stroke-width="0.45">(c)</text>
<text x="504" y="117.2" font-size="7.2" font-weight="bold" text-anchor="start" fill="#111" stroke="#111" stroke-width="0.15">RTMOA5</text>
<line x1="402" y1="13.60" x2="415.80" y2="13.60" stroke="#dc3636" stroke-width="1.25"/>
<text x="417.60" y="15.90" font-size="6.5" font-weight="bold" text-anchor="start" fill="#111" textLength="20.3" lengthAdjust="spacingAndGlyphs" stroke="#111" stroke-width="0.18">30 mV/s</text>
<line x1="402" y1="21.20" x2="415.80" y2="21.20" stroke="#3636d4" stroke-width="1.25"/>
<text x="417.60" y="23.50" font-size="6.5" font-weight="bold" text-anchor="start" fill="#111" textLength="20.3" lengthAdjust="spacingAndGlyphs" stroke="#111" stroke-width="0.18">20 mV/s</text>
<line x1="402" y1="28.80" x2="415.80" y2="28.80" stroke="#dc36e2" stroke-width="1.25"/>
<text x="417.60" y="31.10" font-size="6.5" font-weight="bold" text-anchor="start" fill="#111" textLength="20.3" lengthAdjust="spacingAndGlyphs" stroke="#111" stroke-width="0.18">15 mV/s</text>
<line x1="402" y1="36.40" x2="415.80" y2="36.40" stroke="#36cf36" stroke-width="1.25"/>
<text x="417.60" y="38.70" font-size="6.5" font-weight="bold" text-anchor="start" fill="#111" textLength="20.3" lengthAdjust="spacingAndGlyphs" stroke="#111" stroke-width="0.18">10 mV/s</text>
<line x1="402" y1="44.00" x2="415.80" y2="44.00" stroke="#36dce0" stroke-width="1.25"/>
<text x="417.60" y="46.30" font-size="6.5" font-weight="bold" text-anchor="start" fill="#111" textLength="17.4" lengthAdjust="spacingAndGlyphs" stroke="#111" stroke-width="0.18">5 mv /s</text>
<rect x="71.40" y="231.47" width="26.0" height="132.73" fill="#fcc98f" stroke="#555" stroke-width="0.8"/>
<text x="0" y="0" font-size="10" fill="#222" transform="translate(87.80,230.87) rotate(-90)">375.3</text>
<rect x="97.40" y="242.15" width="26.0" height="122.05" fill="#9dd49a" stroke="#555" stroke-width="0.8"/>
<text x="0" y="0" font-size="10" fill="#222" transform="translate(113.80,241.55) rotate(-90)">345.1</text>
<rect x="123.40" y="253.96" width="26.0" height="110.24" fill="#c3b2d6" stroke="#555" stroke-width="0.8"/>
<text x="0" y="0" font-size="10" fill="#222" transform="translate(139.80,253.36) rotate(-90)">311.7</text>
<rect x="149.40" y="269.95" width="26.0" height="94.25" fill="#fdfc9e" stroke="#555" stroke-width="0.8"/>
<text x="0" y="0" font-size="10" fill="#222" transform="translate(165.80,269.35) rotate(-90)">266.5</text>
<rect x="175.40" y="284.13" width="26.0" height="80.07" fill="#9bbcf2" stroke="#555" stroke-width="0.8"/>
<text x="0" y="0" font-size="10" fill="#222" transform="translate(191.80,283.53) rotate(-90)">226.4</text>
<text x="136.40" y="378.6" font-size="12.8" font-weight="bold" text-anchor="middle" fill="#111" stroke="#111" stroke-width="0.25">RTMOA1</text>
<rect x="233.90" y="184.47" width="26.0" height="179.73" fill="#fcc98f" stroke="#555" stroke-width="0.8"/>
<text x="0" y="0" font-size="10" fill="#222" transform="translate(250.30,183.87) rotate(-90)">508.2</text>
<rect x="259.90" y="214.42" width="26.0" height="149.78" fill="#9dd49a" stroke="#555" stroke-width="0.8"/>
<text x="0" y="0" font-size="10" fill="#222" transform="translate(276.30,213.82) rotate(-90)">423.5</text>
<rect x="285.90" y="228.89" width="26.0" height="135.31" fill="#c3b2d6" stroke="#555" stroke-width="0.8"/>
<text x="0" y="0" font-size="10" fill="#222" transform="translate(302.30,228.29) rotate(-90)">382.6</text>
<rect x="311.90" y="235.54" width="26.0" height="128.66" fill="#fdfc9e" stroke="#555" stroke-width="0.8"/>
<text x="0" y="0" font-size="10" fill="#222" transform="translate(328.30,234.94) rotate(-90)">363.8</text>
<rect x="337.90" y="255.70" width="26.0" height="108.50" fill="#9bbcf2" stroke="#555" stroke-width="0.8"/>
<text x="0" y="0" font-size="10" fill="#222" transform="translate(354.30,255.10) rotate(-90)">306.8</text>
<text x="298.90" y="378.6" font-size="12.8" font-weight="bold" text-anchor="middle" fill="#111" stroke="#111" stroke-width="0.25">RTMOA3</text>
<rect x="396.40" y="204.17" width="26.0" height="160.03" fill="#fcc98f" stroke="#555" stroke-width="0.8"/>
<text x="0" y="0" font-size="10" fill="#222" transform="translate(412.80,203.57) rotate(-90)">452.5</text>
<rect x="422.40" y="220.40" width="26.0" height="143.80" fill="#9dd49a" stroke="#555" stroke-width="0.8"/>
<text x="0" y="0" font-size="10" fill="#222" transform="translate(438.80,219.80) rotate(-90)">406.6</text>
<rect x="448.40" y="240.98" width="26.0" height="123.22" fill="#c3b2d6" stroke="#555" stroke-width="0.8"/>
<text x="0" y="0" font-size="10" fill="#222" transform="translate(464.80,240.38) rotate(-90)">348.4</text>
<rect x="474.40" y="252.19" width="26.0" height="112.01" fill="#fdfc9e" stroke="#555" stroke-width="0.8"/>
<text x="0" y="0" font-size="10" fill="#222" transform="translate(490.80,251.59) rotate(-90)">316.7</text>
<rect x="500.40" y="265.21" width="26.0" height="98.99" fill="#9bbcf2" stroke="#555" stroke-width="0.8"/>
<text x="0" y="0" font-size="10" fill="#222" transform="translate(516.80,264.61) rotate(-90)">279.9</text>
<text x="461.40" y="378.6" font-size="12.8" font-weight="bold" text-anchor="middle" fill="#111" stroke="#111" stroke-width="0.25">RTMOA5</text>
<rect x="55.4" y="152.0" width="487.20" height="212.20" fill="none" stroke="#111" stroke-width="1.5"/>
<line x1="52.4" y1="364.20" x2="55.4" y2="364.20" stroke="#111" stroke-width="1.1"/>
<text x="49.00" y="366.90" font-size="8" font-weight="bold" text-anchor="end" fill="#222" stroke="#222" stroke-width="0.25">0</text>
<line x1="52.4" y1="328.83" x2="55.4" y2="328.83" stroke="#111" stroke-width="1.1"/>
<text x="49.00" y="331.53" font-size="8" font-weight="bold" text-anchor="end" fill="#222" stroke="#222" stroke-width="0.25">100</text>
<line x1="52.4" y1="293.47" x2="55.4" y2="293.47" stroke="#111" stroke-width="1.1"/>
<text x="49.00" y="296.17" font-size="8" font-weight="bold" text-anchor="end" fill="#222" stroke="#222" stroke-width="0.25">200</text>
<line x1="52.4" y1="258.10" x2="55.4" y2="258.10" stroke="#111" stroke-width="1.1"/>
<text x="49.00" y="260.80" font-size="8" font-weight="bold" text-anchor="end" fill="#222" stroke="#222" stroke-width="0.25">300</text>
<line x1="52.4" y1="222.73" x2="55.4" y2="222.73" stroke="#111" stroke-width="1.1"/>
<text x="49.00" y="225.43" font-size="8" font-weight="bold" text-anchor="end" fill="#222" stroke="#222" stroke-width="0.25">400</text>
<line x1="52.4" y1="187.37" x2="55.4" y2="187.37" stroke="#111" stroke-width="1.1"/>
<text x="49.00" y="190.07" font-size="8" font-weight="bold" text-anchor="end" fill="#222" stroke="#222" stroke-width="0.25">500</text>
<line x1="52.4" y1="152.00" x2="55.4" y2="152.00" stroke="#111" stroke-width="1.1"/>
<text x="49.00" y="154.70" font-size="8" font-weight="bold" text-anchor="end" fill="#222" stroke="#222" stroke-width="0.25">600</text>
<line x1="53.6" y1="346.52" x2="55.4" y2="346.52" stroke="#111" stroke-width="1"/>
<line x1="53.6" y1="311.15" x2="55.4" y2="311.15" stroke="#111" stroke-width="1"/>
<line x1="53.6" y1="275.78" x2="55.4" y2="275.78" stroke="#111" stroke-width="1"/>
<line x1="53.6" y1="240.42" x2="55.4" y2="240.42" stroke="#111" stroke-width="1"/>
<line x1="53.6" y1="205.05" x2="55.4" y2="205.05" stroke="#111" stroke-width="1"/>
<line x1="53.6" y1="169.68" x2="55.4" y2="169.68" stroke="#111" stroke-width="1"/>
<text x="0" y="0" font-size="13" font-weight="bold" fill="#111" stroke="#111" stroke-width="0.25" transform="translate(27.4,329.5) rotate(-90)">Specific capacitance/F g<tspan dy="-5.8" font-size="9.5">-1</tspan></text>
<text x="16.8" y="159.0" font-size="18" font-weight="bold" text-anchor="start" fill="#000" stroke="#000" stroke-width="0.45">(d)</text>
<rect x="488.4" y="158.60" width="16.2" height="8.1" fill="#fcc98f" stroke="#555" stroke-width="0.7"/>
<text x="506.6" y="165.20" font-size="7.3" font-weight="normal" text-anchor="start" fill="#222" >5 mV/s</text>
<rect x="488.4" y="167.50" width="16.2" height="8.1" fill="#9dd49a" stroke="#555" stroke-width="0.7"/>
<text x="506.6" y="174.10" font-size="7.3" font-weight="normal" text-anchor="start" fill="#222" >10 mV/s</text>
<rect x="488.4" y="176.40" width="16.2" height="8.1" fill="#c3b2d6" stroke="#555" stroke-width="0.7"/>
<text x="506.6" y="183.00" font-size="7.3" font-weight="normal" text-anchor="start" fill="#222" >15 mV/s</text>
<rect x="488.4" y="185.30" width="16.2" height="8.1" fill="#fdfc9e" stroke="#555" stroke-width="0.7"/>
<text x="506.6" y="191.90" font-size="7.3" font-weight="normal" text-anchor="start" fill="#222" >20 mV/s</text>
<rect x="488.4" y="194.20" width="16.2" height="8.1" fill="#9bbcf2" stroke="#555" stroke-width="0.7"/>
<text x="506.6" y="200.80" font-size="7.3" font-weight="normal" text-anchor="start" fill="#222" >30 mV/s</text>
</svg></body></html>
